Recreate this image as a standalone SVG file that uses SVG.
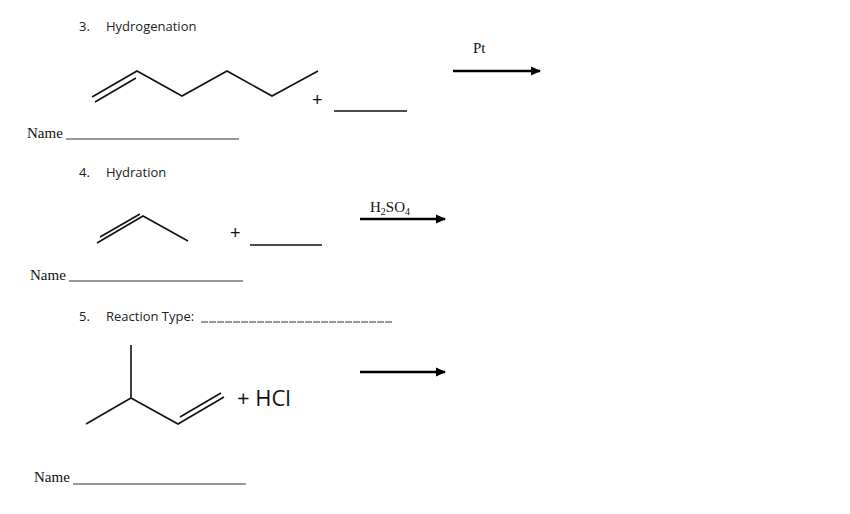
<svg xmlns="http://www.w3.org/2000/svg" width="850" height="514" viewBox="0 0 850 514">
<style>
.s{font-family:"Open Sans","Liberation Sans",sans-serif;font-size:13px;fill:#222}
.t{font-family:"Liberation Serif",serif;font-size:15px;fill:#111}
.b{stroke:#111;stroke-width:1.6;fill:none}
.u{stroke:#333;stroke-width:1}
.a{stroke:#000;stroke-width:2.5}
</style>
<defs><marker id="ah" markerWidth="10" markerHeight="10" refX="9" refY="5" orient="auto" markerUnits="userSpaceOnUse"><path d="M0,0.5L10,5L0,9.5z" fill="#000"/></marker></defs>
<rect width="850" height="514" fill="#fff"/>
<g id="q3">
<text class="s" x="79" y="31">3.</text><text class="s" x="106" y="31">Hydrogenation</text>
<polyline class="b" points="92,97 137,71 182,96 227,71 272,96 318,71"/>
<line class="b" x1="95" y1="102" x2="136" y2="78"/>
<text x="312" y="106" style="font-family:'Liberation Sans',sans-serif;font-size:18px;fill:#111">+</text>
<line x1="334" y1="111" x2="407" y2="111" stroke="#111" stroke-width="1.5"/>
<text class="t" x="27" y="138">Name</text><line class="u" x1="66" y1="139" x2="239" y2="139"/>
<text class="t" x="473" y="53">Pt</text>
</g>
<g id="q4">
<text class="s" x="79" y="177">4.</text><text class="s" x="106" y="177">Hydration</text>
<polyline class="b" points="97,243 143,216 188,241"/>
<line class="b" x1="100" y1="237" x2="140" y2="214"/>
<text x="230" y="239" style="font-family:'Liberation Sans',sans-serif;font-size:18px;fill:#111">+</text>
<line x1="250" y1="245" x2="322" y2="245" stroke="#111" stroke-width="1.5"/>
<text class="t" x="30" y="280">Name</text><line class="u" x1="69" y1="281" x2="243" y2="281"/>
<text class="t" x="370" y="212">H<tspan font-size="10" dy="3">2</tspan><tspan dy="-3">SO</tspan><tspan font-size="10" dy="3">4</tspan></text>
</g>
<g id="q5">
<text class="s" x="79" y="321">5.</text><text class="s" x="106" y="321">Reaction Type:</text>
<line x1="201" y1="322" x2="393" y2="322" stroke="#333" stroke-width="1" stroke-dasharray="7,1"/>
<polyline class="b" points="86,424 131,398 131,345"/>
<polyline class="b" points="131,398 178,424 224,397"/>
<line class="b" x1="180" y1="417" x2="221" y2="393"/>
<text x="237" y="406" style="font-family:'Open Sans','Liberation Sans',sans-serif;font-size:22px;fill:#111">+ HCl</text>
<text class="t" x="34" y="482">Name</text><line class="u" x1="73" y1="484" x2="246" y2="484"/>
</g>
<g id="connectors">
<line class="a" x1="453" y1="71" x2="540" y2="71" marker-end="url(#ah)"/>
<line class="a" x1="360" y1="219" x2="445" y2="219" marker-end="url(#ah)"/>
<line class="a" x1="360" y1="372" x2="445" y2="372" marker-end="url(#ah)"/>
</g>
</svg>
